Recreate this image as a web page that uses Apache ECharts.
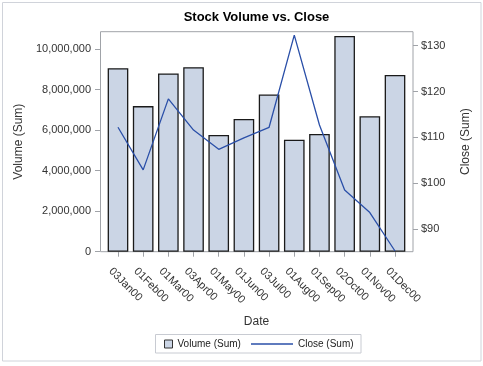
<!DOCTYPE html>
<html>
<head>
<meta charset="utf-8">
<script src="https://cdn.jsdelivr.net/npm/echarts@6/dist/echarts.min.js"></script>
<style>html,body{margin:0;padding:0;background:#fff}#c{width:483px;height:366px}</style>
</head>
<body>
<div id="c"></div>
<script>
const categories = ['03Jan00','01Feb00','01Mar00','03Apr00','01May00','01Jun00','03Jul00','01Aug00','01Sep00','02Oct00','01Nov00','01Dec00'];
const volume = [9050000, 7180000, 8790000, 9100000, 5760000, 6550000, 7750000, 5520000, 5810000, 10640000, 6680000, 8720000];
const closeVals = [112.2, 102.9, 118.4, 111.6, 107.4, 109.9, 112.2, 132.3, 112.7, 98.5, 93.6, 85.2];
const volumeTicks = [0, 2000000, 4000000, 6000000, 8000000, 10000000];
const closeTicks = [90, 100, 110, 120, 130];

const FONT = "'Liberation Sans', Arial, sans-serif";
const chart = echarts.init(document.getElementById('c'), null, {renderer: 'canvas'});
const frame = {l: 100, r: 413, t: 31.7, b: 251.7};
chart.setOption({
  animation: false,
  textStyle: {fontFamily: FONT},
  title: {
    text: 'Stock Volume vs. Close',
    left: 256.5, top: 11, padding: 0, textAlign: 'center',
    textStyle: {fontFamily: FONT, fontSize: 13, fontWeight: 'bold', color: '#000'}
  },
  grid: {left: 105.4, right: 483 - 407.6, top: frame.t, bottom: 366 - frame.b, containLabel: false},
  graphic: [
    {type: 'rect', shape: {x: 2.5, y: 2.5, width: 478.5, height: 358.5}, style: {fill: null, stroke: '#d0d3da', lineWidth: 1}, z: 0, silent: true},
    {type: 'rect', shape: {x: frame.l + 0.5, y: frame.t, width: frame.r - frame.l - 0.5, height: frame.b - frame.t}, style: {fill: null, stroke: '#a0a3a8', lineWidth: 1}, z: 0, silent: true},
    {type: 'rect', shape: {x: 155.5, y: 334.5, width: 205.5, height: 18.5}, style: {fill: null, stroke: '#c8cbd2', lineWidth: 1}, z: 0, silent: true}
  ],
  legend: [
    {data: [{name: 'Volume (Sum)', icon: 'rect'}], left: 164, top: 339, padding: 0, itemWidth: 8, itemHeight: 8,
     itemStyle: {borderColor: '#333', borderWidth: 1},
     textStyle: {fontFamily: FONT, fontSize: 10, color: '#222'}},
    {data: [{name: 'Close (Sum)', icon: 'rect'}], left: 251, top: 339, padding: 0, itemWidth: 42, itemHeight: 1.4,
     itemStyle: {color: '#2a4fa8', borderWidth: 0},
     textStyle: {fontFamily: FONT, fontSize: 10, color: '#222'}}
  ],
  xAxis: {
    type: 'category', data: categories, offset: 3.5,
    name: 'Date', nameLocation: 'middle', nameGap: 60.5,
    nameTextStyle: {fontFamily: FONT, fontSize: 12, color: '#333'},
    axisLine: {show: false},
    axisTick: {show: true, alignWithLabel: true, length: 5, lineStyle: {color: '#a0a3a8'}},
    axisLabel: {interval: 0, rotate: -45, margin: 7, verticalAlign: 'top', lineHeight: 13, padding: [4, 0, 0, 0],
      fontFamily: FONT, fontSize: 11, color: '#333'}
  },
  yAxis: [
    {
      type: 'value', min: 0, max: 10850000, offset: 5.4,
      name: 'Volume (Sum)', nameLocation: 'middle', nameGap: 75,
      nameTextStyle: {fontFamily: FONT, fontSize: 12, color: '#333'},
      splitLine: {show: false},
      axisLine: {show: false},
      axisTick: {show: true, length: 5, customValues: volumeTicks, lineStyle: {color: '#a0a3a8'}},
      axisLabel: {margin: 9, customValues: volumeTicks, fontFamily: FONT, fontSize: 11, color: '#333',
        formatter: v => Number(v).toLocaleString('en-US')}
    },
    {
      type: 'value', min: 85.05, max: 133.06, offset: 5.4, position: 'right',
      name: 'Close (Sum)', nameLocation: 'middle', nameGap: 47,
      nameTextStyle: {fontFamily: FONT, fontSize: 12, color: '#333'},
      splitLine: {show: false},
      axisLine: {show: false},
      axisTick: {show: true, length: 5, customValues: closeTicks, lineStyle: {color: '#a0a3a8'}},
      axisLabel: {margin: 8, customValues: closeTicks, fontFamily: FONT, fontSize: 11, color: '#333',
        formatter: v => '$' + v}
    }
  ],
  series: [
    {
      name: 'Volume (Sum)', type: 'bar', data: volume, yAxisIndex: 0,
      barCategoryGap: '18%',
      itemStyle: {color: '#cbd5e5', borderColor: '#1a1a1a', borderWidth: 1.3}
    },
    {
      name: 'Close (Sum)', type: 'line', data: closeVals, yAxisIndex: 1,
      symbol: 'none', z: 5,
      lineStyle: {color: '#2a4fa8', width: 1.3},
      itemStyle: {color: '#2a4fa8'}
    }
  ]
});
</script>
</body>
</html>
